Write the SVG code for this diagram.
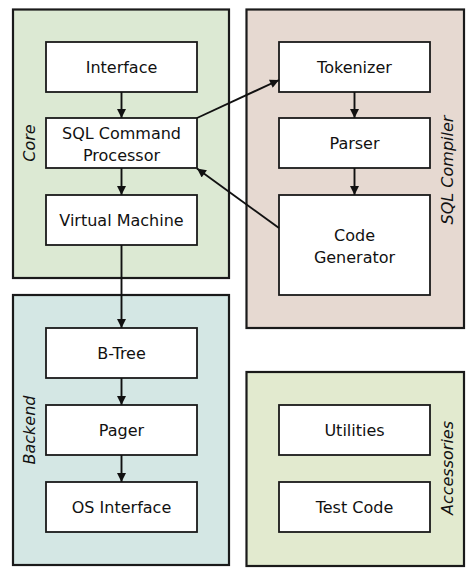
<svg xmlns="http://www.w3.org/2000/svg" width="474" height="579" viewBox="0 0 474 579">
<defs>
<style>
.grp{stroke:#1a1a1a;stroke-width:2.2}
.box{fill:#fff;stroke:#1a1a1a;stroke-width:1.8}
.t{font-family:"DejaVu Sans",Verdana,sans-serif;font-size:16px;fill:#111;text-anchor:middle}
.lbl{font-family:"DejaVu Sans",Verdana,sans-serif;font-size:16px;font-style:italic;fill:#111;text-anchor:middle}
.c{stroke:#111;stroke-width:1.9;fill:none;marker-end:url(#ah)}
</style>
<marker id="ah" viewBox="0 0 10 10" refX="10" refY="5" markerWidth="10" markerHeight="9" markerUnits="userSpaceOnUse" orient="auto"><path d="M0,0 L10,5 L0,10 z" fill="#111"/></marker>
</defs>
<rect width="474" height="579" fill="#fff"/>
<g id="core"><rect class="grp" x="13" y="9.5" width="216" height="268.5" fill="#dce9d3"/><text class="lbl" transform="translate(35,143) rotate(-90)">Core</text></g>
<g id="sqlcompiler"><rect class="grp" x="246.5" y="9.5" width="217.5" height="318.5" fill="#e6d9d1"/><text class="lbl" transform="translate(453,170) rotate(-90)">SQL Compiler</text></g>
<g id="backend"><rect class="grp" x="13" y="295" width="216" height="270" fill="#d4e7e4"/><text class="lbl" transform="translate(35,430) rotate(-90)">Backend</text></g>
<g id="accessories"><rect class="grp" x="246.5" y="372" width="217.5" height="194" fill="#e2eacf"/><text class="lbl" transform="translate(453,468) rotate(-90)">Accessories</text></g>
<g id="interface"><rect class="box" x="46" y="42" width="151" height="50"/><text class="t" x="121.5" y="73">Interface</text></g>
<g id="sqlcmd"><rect class="box" x="46" y="118" width="151" height="50"/><text class="t" x="121.5" y="138.5">SQL Command</text><text class="t" x="121.5" y="160.5">Processor</text></g>
<g id="vm"><rect class="box" x="46" y="195" width="151" height="50"/><text class="t" x="121.5" y="226">Virtual Machine</text></g>
<g id="tokenizer"><rect class="box" x="279" y="42" width="151" height="50"/><text class="t" x="354.5" y="73">Tokenizer</text></g>
<g id="parser"><rect class="box" x="279" y="118" width="151" height="50"/><text class="t" x="354.5" y="149">Parser</text></g>
<g id="codegen"><rect class="box" x="279" y="195" width="151" height="100"/><text class="t" x="354.5" y="240.5">Code</text><text class="t" x="354.5" y="262.5">Generator</text></g>
<g id="btree"><rect class="box" x="46" y="328" width="151" height="50"/><text class="t" x="121.5" y="359">B-Tree</text></g>
<g id="pager"><rect class="box" x="46" y="405" width="151" height="50"/><text class="t" x="121.5" y="436">Pager</text></g>
<g id="osinterface"><rect class="box" x="46" y="482" width="151" height="50"/><text class="t" x="121.5" y="513">OS Interface</text></g>
<g id="utilities"><rect class="box" x="279" y="405" width="151" height="50"/><text class="t" x="354.5" y="436">Utilities</text></g>
<g id="testcode"><rect class="box" x="279" y="482" width="151" height="50"/><text class="t" x="354.5" y="513">Test Code</text></g>
<g id="connectors">
<line class="c" x1="121.5" y1="92" x2="121.5" y2="118"/>
<line class="c" x1="121.5" y1="168" x2="121.5" y2="195"/>
<line class="c" x1="121.5" y1="245" x2="121.5" y2="328"/>
<line class="c" x1="121.5" y1="378" x2="121.5" y2="405"/>
<line class="c" x1="121.5" y1="455" x2="121.5" y2="482"/>
<line class="c" x1="354.5" y1="92" x2="354.5" y2="118"/>
<line class="c" x1="354.5" y1="168" x2="354.5" y2="195"/>
<line class="c" x1="197" y1="118" x2="279" y2="80"/>
<line class="c" x1="279" y1="228" x2="197" y2="168.5"/>
</g>
</svg>
